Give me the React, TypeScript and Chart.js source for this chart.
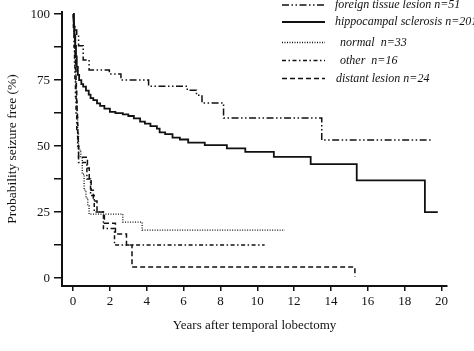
import React, { useEffect, useRef } from 'react';
import { Chart, registerables } from 'chart.js';
Chart.register(...registerables);

const seriesLabels = [
  'foreign tissue lesion n=51',
  'hippocampal sclerosis n=201',
  'normal  n=33',
  'other  n=16',
  'distant lesion n=24',
];

const foreignT = [0, 0.05, 0.1, 0.2, 0.3, 0.55, 0.87, 1.97, 2.6, 4.1, 6.2, 6.7, 7.0, 8.17, 13.5, 19.5];
const foreignS = [100, 96, 94, 92, 88, 82.6, 78.8, 77.3, 75, 72.7, 71.2, 69.3, 66.3, 60.6, 52.3, 52.3];

const hippoT = [0, 0.02, 0.05, 0.08, 0.12, 0.16, 0.2, 0.26, 0.33, 0.45, 0.55, 0.7, 0.85, 0.95, 1.1, 1.3, 1.47, 1.7, 2.0, 2.3, 2.7, 3.0, 3.3, 3.64, 3.9, 4.2, 4.55, 4.7, 5.0, 5.4, 5.8, 6.25, 7.15, 8.35, 9.35, 10.9, 12.9, 15.4, 19.1, 19.8];
const hippoS = [100, 98, 95, 92, 88, 84, 80, 77, 75, 73.5, 72.5, 71, 69.5, 68.2, 67.4, 66.2, 65.2, 64.2, 63, 62.5, 62, 61.4, 60.5, 59.3, 58.5, 57.6, 56.6, 55.2, 54.5, 53.2, 52.5, 51.3, 50.4, 49.1, 47.8, 45.9, 43.2, 37, 25, 25];

const normalT = [0, 0.03, 0.06, 0.09, 0.12, 0.15, 0.18, 0.21, 0.25, 0.3, 0.42, 0.5, 0.6, 0.7, 0.8, 0.87, 2.7, 3.75, 11.5];
const normalS = [100, 97, 91, 85, 79, 73, 67, 61, 55, 48.5, 45.5, 39.4, 33.3, 30.3, 27.3, 24.2, 21.2, 18.2, 18.2];

const otherT = [0, 0.02, 0.05, 0.08, 0.1, 0.13, 0.16, 0.2, 0.25, 0.3, 0.75, 0.95, 1.15, 1.65, 2.25, 10.4];
const otherS = [100, 93.75, 87.5, 81.25, 75, 68.75, 62.5, 56.25, 50, 43.75, 37.5, 31.25, 25, 18.75, 12.5, 12.5];

const distantT = [0, 0.03, 0.06, 0.09, 0.12, 0.14, 0.16, 0.18, 0.2, 0.22, 0.24, 0.26, 0.28, 0.3, 0.78, 0.88, 0.98, 1.1, 1.3, 1.7, 2.3, 2.9, 3.2, 15.3, 15.3];
const distantS = [100, 95.8, 91.7, 87.5, 83.3, 79.2, 75, 70.8, 66.7, 62.5, 58.3, 54.2, 50, 45.8, 41.7, 37.5, 33.3, 29.2, 25, 20.8, 16.7, 12.5, 4.2, 4.2, 0.5];

const xTicks = [0, 2, 4, 6, 8, 10, 12, 14, 16, 18, 20];
const yTicks = [0, 12.5, 25, 37.5, 50, 62.5, 75, 87.5, 100];
const yLabelled = [0, 25, 50, 75, 100];

const toPts = (t: number[], s: number[]) => t.map((x, i) => ({ x, y: s[i] }));

const legendRows = [5, 22, 42.5, 60.5, 78.5];
const legendTextX = [335, 335, 340, 340, 336];

const legendPlugin = {
  id: 'customLegend',
  afterDraw(chart: any) {
    const ctx = chart.ctx;
    ctx.save();
    chart.data.datasets.forEach((ds: any, i: number) => {
      const y = legendRows[i];
      ctx.beginPath();
      ctx.setLineDash(ds.borderDash || []);
      ctx.lineWidth = ds.borderWidth;
      ctx.strokeStyle = ds.borderColor;
      ctx.moveTo(282, y);
      ctx.lineTo(325, y);
      ctx.stroke();
      ctx.setLineDash([]);
      ctx.fillStyle = '#111';
      ctx.font = 'italic 12px "Liberation Serif"';
      ctx.textBaseline = 'middle';
      ctx.textAlign = 'left';
      ctx.fillText(ds.label, legendTextX[i], y);
    });
    ctx.restore();
  },
};

const bgPlugin = {
  id: 'bg',
  beforeDraw(chart: any) {
    const ctx = chart.ctx;
    ctx.save();
    ctx.fillStyle = '#fff';
    ctx.fillRect(0, 0, chart.width, chart.height);
    ctx.restore();
  },
};

export default function App() {
  const ref = useRef<HTMLCanvasElement>(null);
  useEffect(() => {
    if (!ref.current) return;
    const common = { stepped: true, pointRadius: 0, fill: false, borderColor: '#111' };
    const chart = new Chart(ref.current, {
      type: 'line',
      data: {
        datasets: [
          { ...common, label: seriesLabels[0], data: toPts(foreignT, foreignS), borderWidth: 1.5, borderDash: [7, 2.5, 1.5, 2.5, 1.5, 2.5] },
          { ...common, label: seriesLabels[1], data: toPts(hippoT, hippoS), borderWidth: 1.8, borderDash: [] },
          { ...common, label: seriesLabels[2], data: toPts(normalT, normalS), borderWidth: 1.3, borderDash: [1, 1.5] },
          { ...common, label: seriesLabels[3], data: toPts(otherT, otherS), borderWidth: 1.5, borderDash: [4, 2.5, 1.5, 2.5] },
          { ...common, label: seriesLabels[4], data: toPts(distantT, distantS), borderWidth: 1.5, borderDash: [5, 3] },
        ],
      } as any,
      options: {
        responsive: false,
        maintainAspectRatio: false,
        animation: false,
        layout: { padding: { top: 12, right: 27, left: 0, bottom: 0 } },
        plugins: { legend: { display: false }, tooltip: { enabled: false } },
        scales: {
          x: {
            type: 'linear',
            min: -0.6,
            max: 20.3,
            afterFit(scale: any) { scale.height = 65; },
            afterBuildTicks(scale: any) { scale.ticks = xTicks.map((v) => ({ value: v })); },
            grid: { drawOnChartArea: false, drawTicks: true, tickLength: 5, tickColor: '#111', lineWidth: 1.5 },
            border: { display: true, color: '#111', width: 2 },
            ticks: { color: '#111', padding: 3, maxRotation: 0, autoSkip: false, font: { family: 'Liberation Serif', size: 13 } },
            title: { display: true, text: 'Years after temporal lobectomy', color: '#111', font: { family: 'Liberation Serif', size: 13 }, padding: { top: 0, bottom: 18 } },
          },
          y: {
            type: 'linear',
            min: -3,
            max: 100.8,
            afterFit(scale: any) { scale.width = 62; },
            afterBuildTicks(scale: any) { scale.ticks = yTicks.map((v) => ({ value: v })); },
            grid: { drawOnChartArea: false, drawTicks: true, tickLength: 8, tickColor: '#111', lineWidth: 1.5 },
            border: { display: true, color: '#111', width: 2 },
            ticks: {
              color: '#111', padding: 4, autoSkip: false,
              font: { family: 'Liberation Serif', size: 13 },
              callback: (v: any) => (yLabelled.includes(Number(v)) ? String(v) : ''),
            },
            title: { display: true, text: 'Probability seizure free (%)', color: '#111', font: { family: 'Liberation Serif', size: 13.5 }, padding: { top: 4, bottom: 0 } },
          },
        },
      } as any,
      plugins: [bgPlugin, legendPlugin],
    });
    return () => chart.destroy();
  }, []);
  return (
    <div style={{ position: 'fixed', left: 0, top: 0, width: 474, height: 351, background: '#fff' }}>
      <canvas ref={ref} width={474} height={351} style={{ display: 'block' }} />
    </div>
  );
}
